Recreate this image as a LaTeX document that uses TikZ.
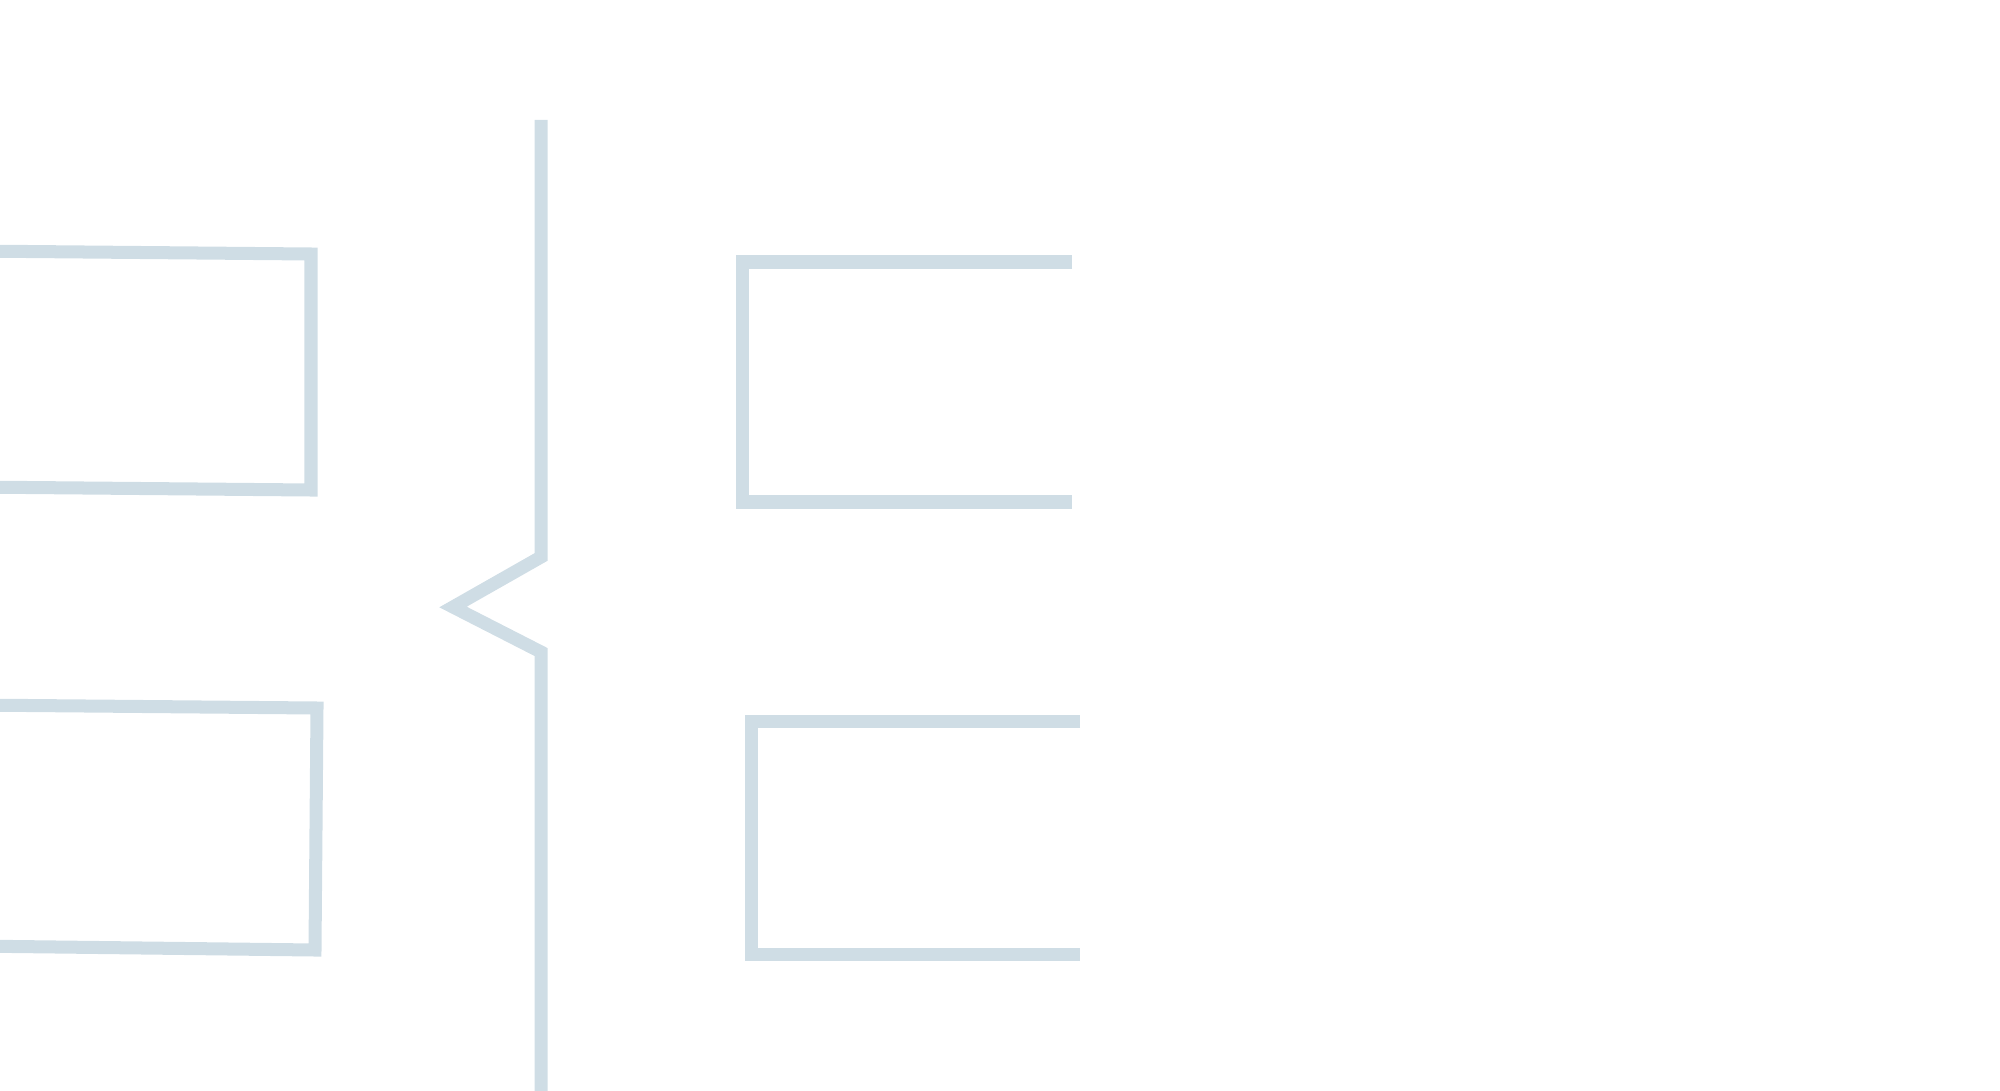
\documentclass[tikz,border=0pt]{standalone}
\definecolor{linec}{RGB}{207,221,229}
\tikzset{
  outline/.style={draw=linec, line width=3.7pt, line cap=butt, line join=miter},
}
\begin{document}
\begin{tikzpicture}[x=0.01cm,y=-0.01cm]
\useasboundingbox (0,0) rectangle (2000,1091);
\clip (0,0) rectangle (2000,1091);
% left boxes (cut off by the left edge)
\coordinate (lt1) at (-30,251);
\coordinate (lt2) at (311,254);
\coordinate (lt3) at (311,490);
\coordinate (lt4) at (-30,487);
\draw[outline] (lt1) -- (lt2) -- (lt3) -- (lt4);
\coordinate (lb1) at (-30,705);
\coordinate (lb2) at (317,708);
\coordinate (lb3) at (315,950);
\coordinate (lb4) at (-30,946);
\draw[outline] (lb1) -- (lb2) -- (lb3) -- (lb4);
% central line with notch
\coordinate (v1) at (541,120);
\coordinate (v2) at (541,557);
\coordinate (v3) at (453,607);
\coordinate (v4) at (541,652);
\coordinate (v5) at (541,1100);
\draw[outline] (v1) -- (v2) -- (v3) -- (v4) -- (v5);
% right brackets (open to the right)
\coordinate (rt1) at (1072,262);
\coordinate (rt2) at (742,262);
\coordinate (rt3) at (742,502);
\coordinate (rt4) at (1072,502);
\draw[outline] (rt1) -- (rt2) -- (rt3) -- (rt4);
\coordinate (rb1) at (1080,721);
\coordinate (rb2) at (751,721);
\coordinate (rb3) at (751,954);
\coordinate (rb4) at (1080,954);
\draw[outline] (rb1) -- (rb2) -- (rb3) -- (rb4);
\end{tikzpicture}
\end{document}
